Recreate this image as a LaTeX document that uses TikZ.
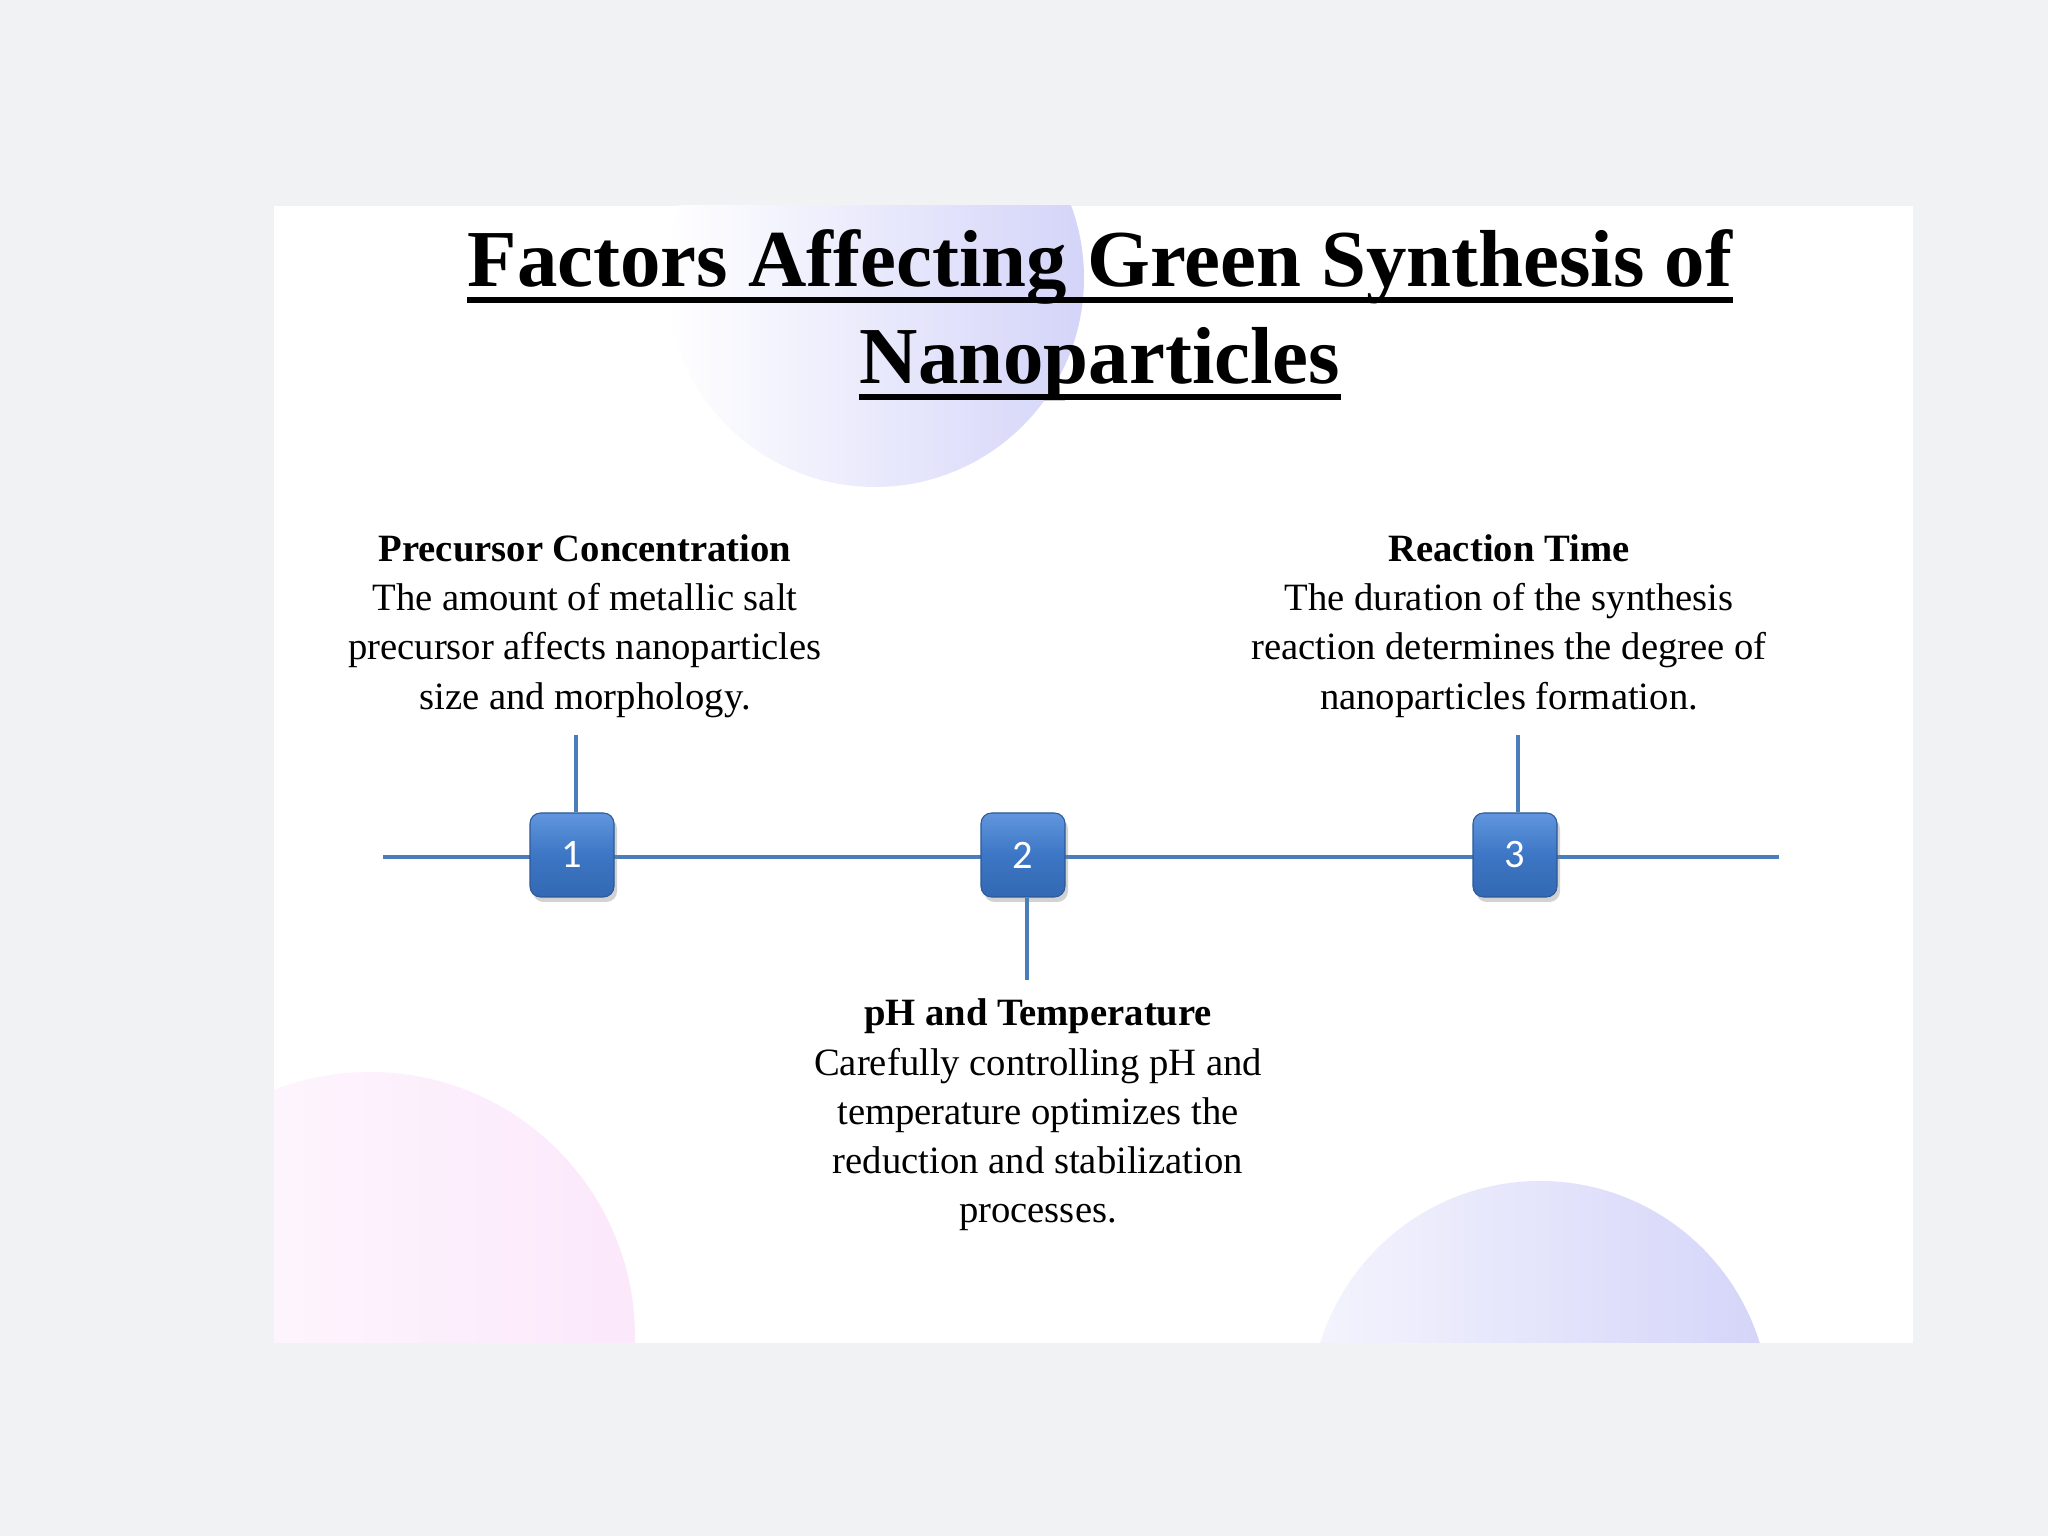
\documentclass[tikz,border=0pt]{standalone}
\usepackage{fontspec}
\setmainfont{Liberation Serif}
\newfontfamily\numfont{Carlito}
\usetikzlibrary{shadows}
\definecolor{pagebg}{HTML}{F1F2F4}
\definecolor{lineblue}{HTML}{4A7EBB}
\definecolor{boxtop}{HTML}{6196DE}
\definecolor{boxmid}{HTML}{3C76C4}
\definecolor{boxbot}{HTML}{3469B3}
\definecolor{lavender}{HTML}{D4D4F9}
\definecolor{blush}{HTML}{FBE8FB}
\begin{document}
\begin{tikzpicture}[every node/.style={font=\fontsize{11}{14}\selectfont},
  numbox/.style={rounded corners=3pt, minimum width=0.84cm, minimum height=0.84cm, top color=boxtop, bottom color=boxbot, middle color=boxmid, draw=boxbot!85!black, line width=0.3pt, drop shadow={opacity=0.35, shadow xshift=0.03cm, shadow yshift=-0.05cm}, text=white, font=\numfont\fontsize{11.5}{13}\selectfont},
  factor/.style={align=center, inner sep=0pt},
  heading/.style={inner sep=0pt, font=\bfseries\fontsize{23}{27}\selectfont},
  link/.style={lineblue, line width=0.9pt}]
  \fill[pagebg] (0,0) rectangle (20.48,15.36);
  \fill[white] (2.74,1.93) rectangle (19.13,13.30);
  \begin{scope}
    \clip (2.74,1.93) rectangle (19.13,13.30);
    \shade[left color=white, right color=lavender] (8.75,12.58) circle (2.09);
    \shade[left color=blush!20, right color=blush] (3.70,1.99) circle (2.65);
    \shade[left color=lavender!25, right color=lavender] (15.40,1.25) circle (2.30);
  \end{scope}
  \node[heading, anchor=base] (t1) at (11.00,12.49) {Factors Affecting Green Synthesis of};
  \node[heading, anchor=base] (t2) at (11.00,11.52) {Nanoparticles};
  \draw[line width=1.7pt] ([yshift=-3.7pt]t1.base west) -- ([yshift=-3.7pt]t1.base east);
  \draw[line width=1.7pt] ([yshift=-3.7pt]t2.base west) -- ([yshift=-3.7pt]t2.base east);
  \coordinate (tl0) at (3.83,6.79);
  \coordinate (tl1) at (17.79,6.79);
  \draw[link] (tl0) -- (tl1);
  \coordinate (c1) at (5.76,8.01);
  \coordinate (c2) at (10.27,5.56);
  \coordinate (c3) at (15.18,8.01);
  \node[numbox] (b1) at (5.72,6.81) {1};
  \node[numbox] (b2) at (10.23,6.81) {2};
  \node[numbox] (b3) at (15.15,6.81) {3};
  \draw[link] (c1) -- (c1 |- b1.north);
  \draw[link] (c2) -- (c2 |- b2.south);
  \draw[link] (c3) -- (c3 |- b3.north);
  \node[factor] (prec) at (5.85,9.10) {\textbf{Precursor Concentration}\\The amount of metallic salt\\precursor affects nanoparticles\\size and morphology.};
  \node[factor] (temp) at (10.38,4.21) {\textbf{pH and Temperature}\\Carefully controlling pH and\\temperature optimizes the\\reduction and stabilization\\processes.};
  \node[factor] (time) at (15.09,9.10) {\textbf{Reaction Time}\\The duration of the synthesis\\reaction determines the degree of\\nanoparticles formation.};
\end{tikzpicture}
\end{document}
